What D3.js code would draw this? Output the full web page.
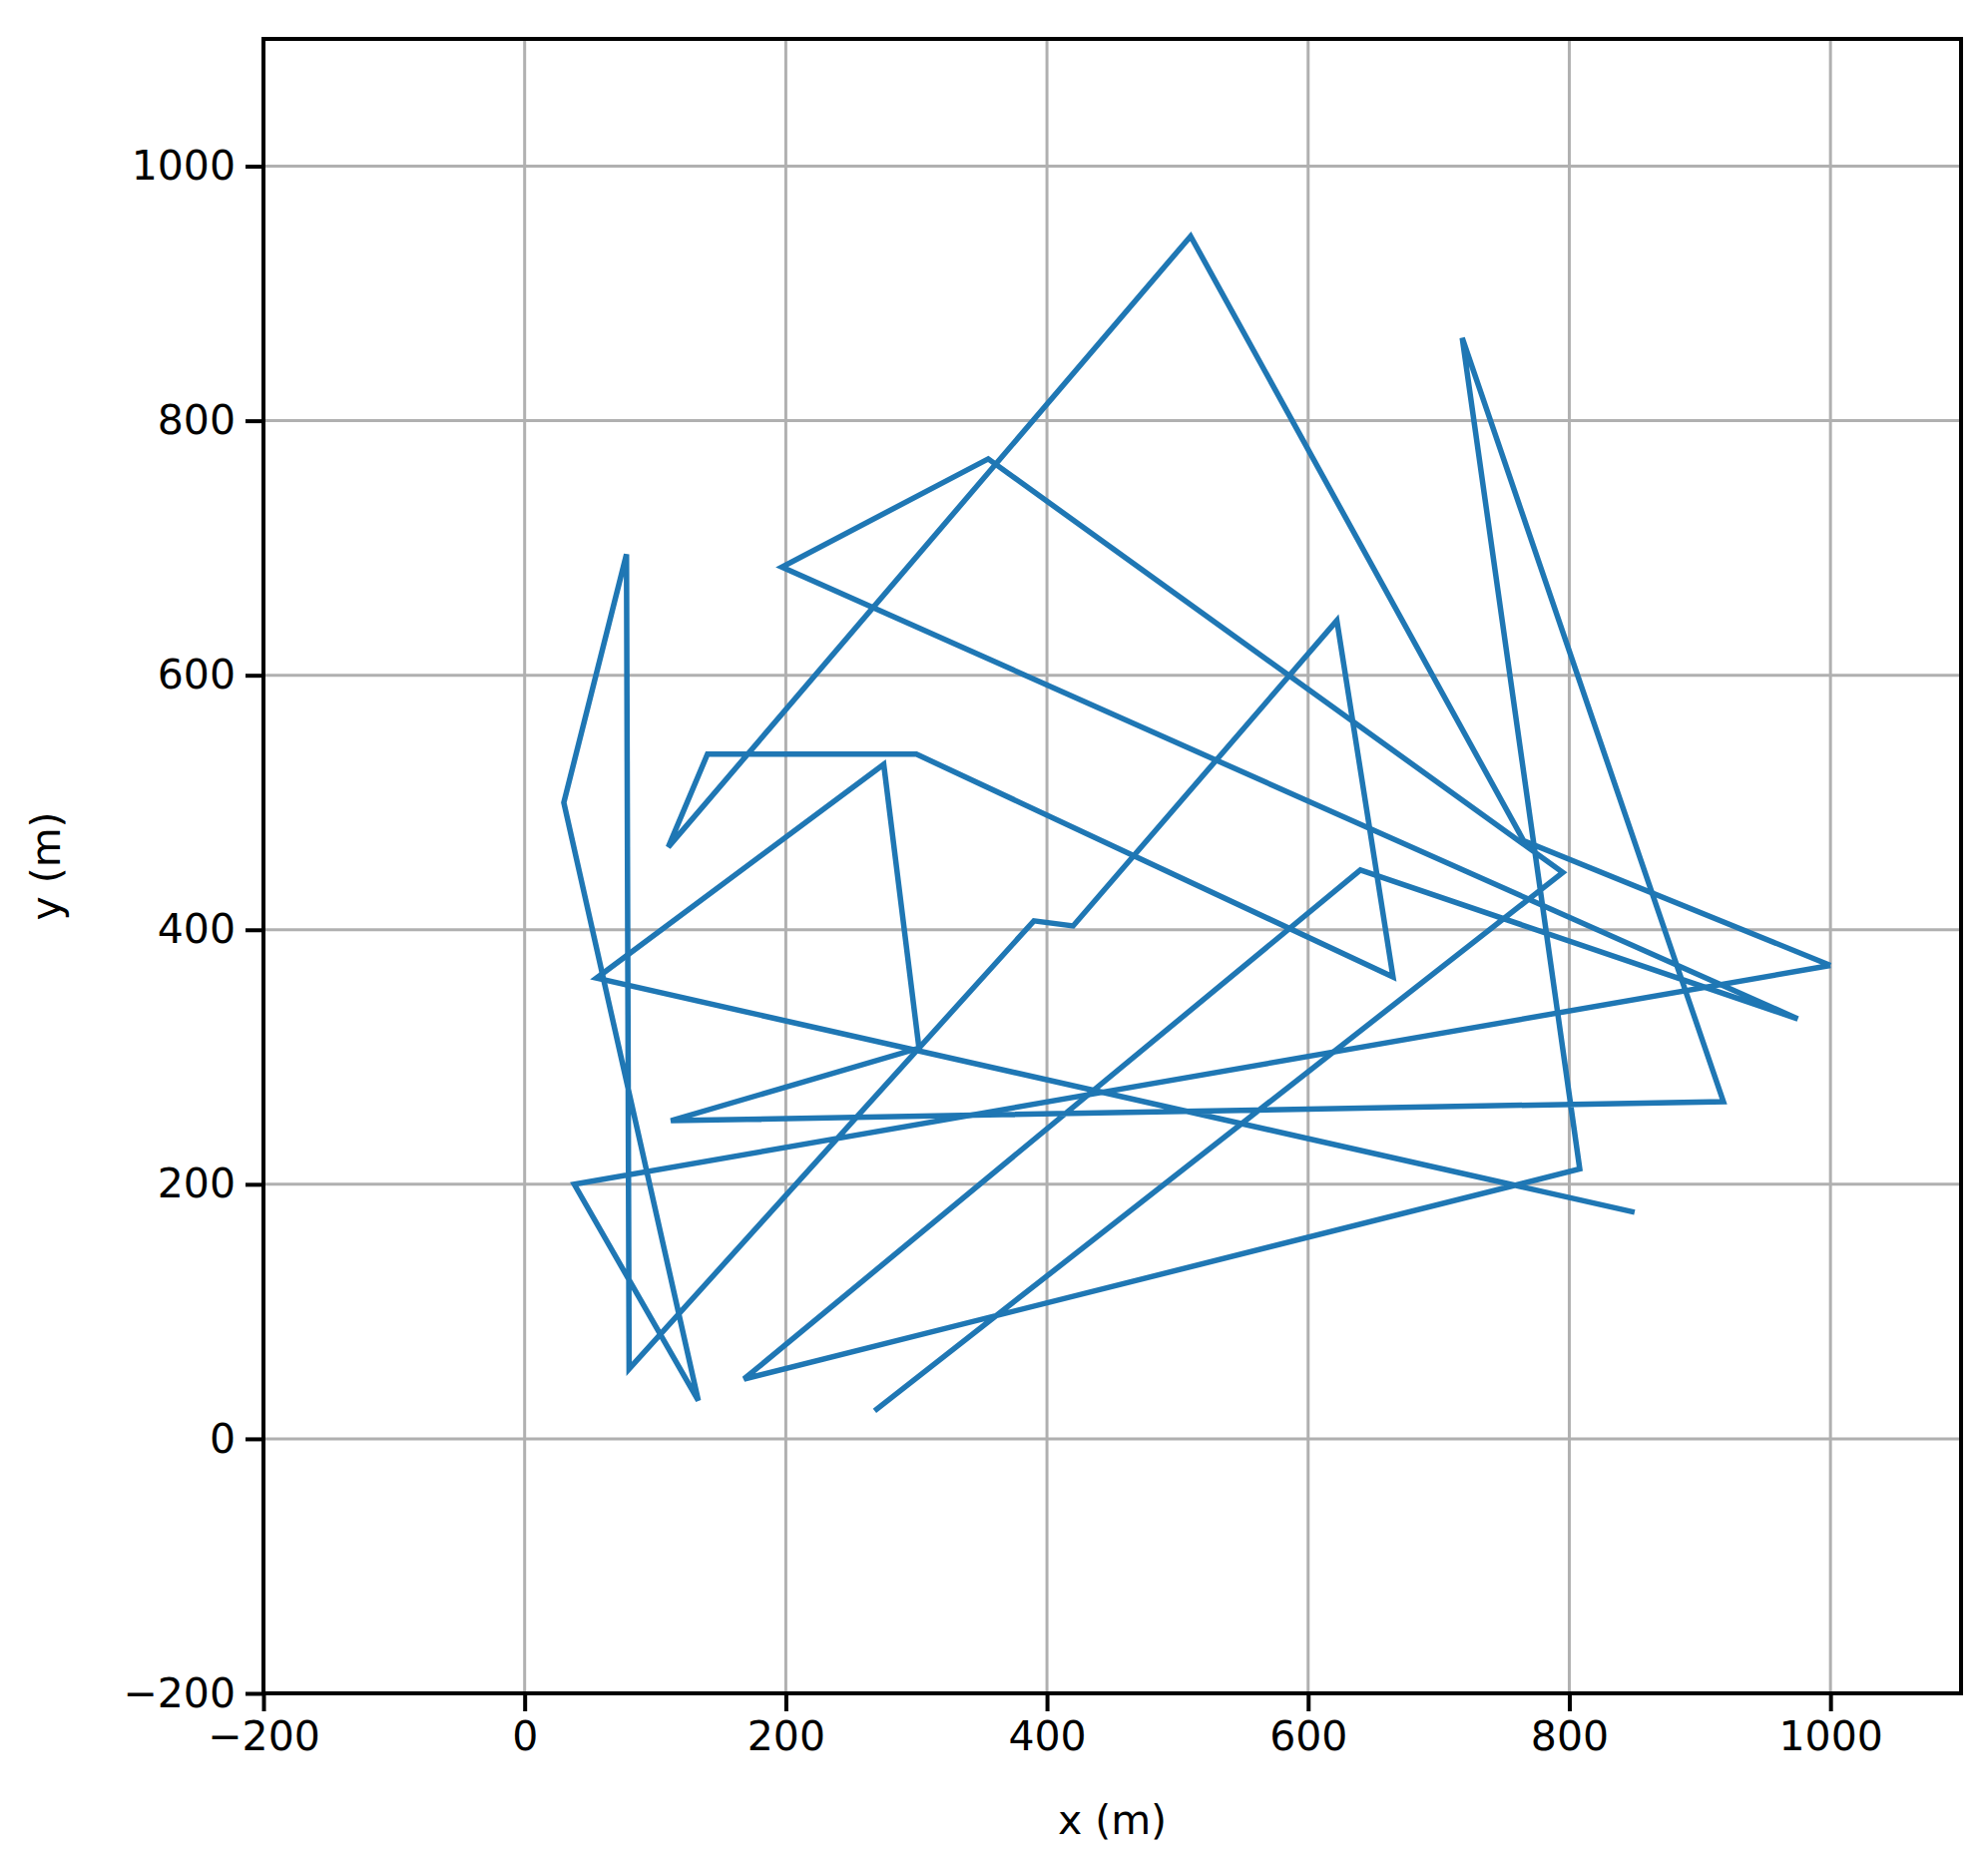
<!DOCTYPE html><html><head><meta charset="utf-8"><script src="https://cdn.jsdelivr.net/npm/d3@7"></script>
<style>body{margin:0;background:#fff}text{font-family:"DejaVu Sans",sans-serif}</style></head><body><svg id="c" width="1992" height="1861"></svg>
<script>
const xTicks=[-200,0,200,400,600,800,1000];
const yTicks=[-200,0,200,400,600,800,1000];
const pathA_x=[268,795,355,197,975,640,168,808,718,918,112,302,275,55,850];
const pathA_y=[22,445,770,685,330,447,47,212,865,265,250,307,530,362,178];
const pathB_x=[1000,38,133,30,78,80,390,420,622,665,300,140,110,510,765,1000];
const pathB_y=[372,200,30,500,695,55,407,403,643,363,538,538,465,945,470,372];
const L=264,R=1965,T=39,B=1697;
const svg=d3.select("#c");
const x=d3.scaleLinear().domain([-200,1100]).range([L,R]);
const y=d3.scaleLinear().domain([-200,1100]).range([B,T]);
const g=svg.append("g");
g.selectAll(".gx").data(xTicks).join("line").attr("x1",d=>x(d)).attr("x2",d=>x(d)).attr("y1",T).attr("y2",B).attr("stroke","#b0b0b0").attr("stroke-width",3);
g.selectAll(".gy").data(yTicks).join("line").attr("y1",d=>y(d)).attr("y2",d=>y(d)).attr("x1",L).attr("x2",R).attr("stroke","#b0b0b0").attr("stroke-width",3);
const line=d3.line().x(d=>x(d[0])).y(d=>y(d[1]));
[[pathA_x,pathA_y],[pathB_x,pathB_y]].forEach(([xs,ys])=>{
 svg.append("path").attr("d",line(xs.map((v,i)=>[v,ys[i]]))).attr("fill","none").attr("stroke","#1f77b4").attr("stroke-width",5.5).attr("stroke-linejoin","miter");
});
const fmt=d=>d<0?"\u2212"+Math.abs(d):String(d);
const ax=svg.append("g").attr("transform",`translate(0,${B})`).call(d3.axisBottom(x).tickValues(xTicks).tickFormat(fmt).tickSize(18).tickPadding(10));
const ay=svg.append("g").attr("transform",`translate(${L},0)`).call(d3.axisLeft(y).tickValues(yTicks).tickFormat(fmt).tickSize(18).tickPadding(10));
[ax,ay].forEach(a=>{a.select(".domain").remove();a.selectAll("line").attr("stroke","#000").attr("stroke-width",4);a.selectAll("text").attr("font-size",41).attr("fill","#000");});
svg.append("rect").attr("x",L).attr("y",T).attr("width",R-L).attr("height",B-T).attr("fill","none").attr("stroke","#000").attr("stroke-width",4);
svg.append("text").attr("x",(L+R)/2).attr("y",1838).attr("text-anchor","middle").attr("font-size",41).text("x (m)");
svg.append("text").attr("transform",`translate(60,${(T+B)/2}) rotate(-90)`).attr("text-anchor","middle").attr("font-size",41).text("y (m)");
</script></body></html>
